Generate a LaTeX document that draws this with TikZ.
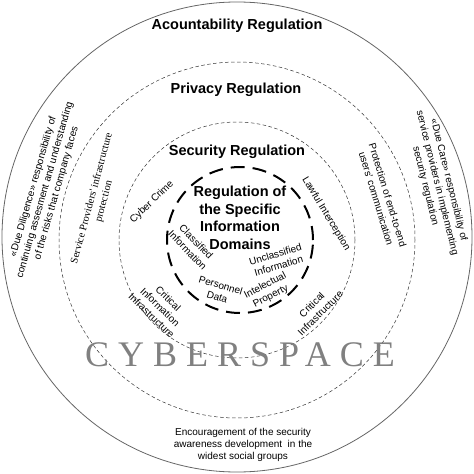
\documentclass[tikz,border=0pt]{standalone}
\usepackage{fontspec}
\setmainfont{Liberation Sans}
\newfontfamily\seriffont{Liberation Serif}
\usetikzlibrary{positioning}

\begin{document}
\begin{tikzpicture}[x=1pt, y=-1pt]
\tikzstyle{ring}=[circle, inner sep=0pt, draw=black!80]
\tikzstyle{thindash}=[dash pattern=on 3.5pt off 2.5pt, line width=0.5pt]
\tikzstyle{title}=[font=\fontsize{14.5}{17.5}\selectfont\bfseries, align=center, inner sep=0pt]
\tikzstyle{small}=[font=\fontsize{10}{12}\selectfont, align=center, inner sep=0pt]
\tikzstyle{letters}=[font=\fontsize{36}{36}\seriffont\addfontfeature{LetterSpace=25}, inner sep=0pt]
\useasboundingbox (0,0) rectangle (474,474);
    % the rings
    \node[ring, minimum size=470pt, draw=black!60, line width=0.8pt] (account) at (237,237) { };
    \node[ring, minimum size=356pt, thindash] (privacy) at (237,240) { };
    \node[ring, minimum size=236pt, thindash] (security) at (237,240) { };
    \node[ring, minimum size=146pt, draw=black, line width=2pt, dash pattern=on 14pt off 8pt] (domains) at (240,240) { };
    % titles
    \node[title] (accountT) at (237,26) {Acountability Regulation};
    \node[title] (privacyT) at (236,90) {Privacy Regulation};
    \node[title] (securityT) at (237,152) {Security Regulation};
    \node[title] (domainsT) at (240,218) {Regulation of\\the Specific\\Information\\Domains};
    % inside the domains ring
    \node[small, rotate=-46] (classified) at (192,246) {Classified\\Information};
    \node[small, rotate=16] (unclassified) at (277,260) {Unclassified\\Information};
    \node[small, rotate=-17] (personnel) at (219,291) {Personnel\\Data};
    \node[small, rotate=27] (property) at (268,291) {Intelectual\\Property};
    % security ring
    \node[small, rotate=44] (crime) at (152,202) {Cyber Crime};
    \node[small, rotate=-59] (lawful) at (326,214) {Lawful Interception};
    \node[small, rotate=-44] (critinfo) at (160,307) {Critical\\Information\\Infrastructure};
    \node[small, rotate=45] (critinfra) at (316,309) {Critical\\Infrastructure};
    % privacy ring
    \node[small, rotate=75, font=\fontsize{10.5}{12.5}\seriffont] (providers) at (98,200) {Service Providers' infrastructure\\protection};
    \node[small, rotate=-73] (endtoend) at (382,197) {Protection of end-to-end\\users' communication};
    % accountability ring
    \node[small, rotate=74] (diligence) at (45,190) {«Due Diligence» responsibility of\\continuing assesment and understanding\\of the risks that company faces};
    \node[small, rotate=-76] (care) at (437,183) {«Due Care» responsibility of\\service providers in implementing\\security regulation};
    \node[small, font=\fontsize{10}{12.3}\selectfont] (awareness) at (243,445) {Encouragement of the security\\awareness development~ in the\\widest social groups};
    % cyberspace
    \node[letters, text=black!50] (cyber) at (240,355) {CYBERSPACE};
\end{tikzpicture}
\end{document}
